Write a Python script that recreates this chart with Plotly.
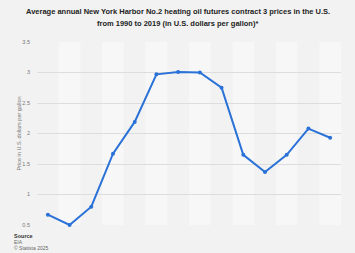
import plotly.graph_objects as go

years = ["1990", "1995", "2000", "2005", "2010", "2011", "2012", "2013",
         "2014", "2015", "2016", "2017", "2018", "2019"]
prices = [0.67, 0.50, 0.80, 1.67, 2.19, 2.97, 3.01, 3.00,
          2.75, 1.65, 1.37, 1.65, 2.08, 1.93]
y_ticks = [0.5, 1, 1.5, 2, 2.5, 3, 3.5]
title_lines = [
    "Average annual New York Harbor No.2 heating oil futures contract 3 prices in the U.S.",
    "from 1990 to 2019 (in U.S. dollars per gallon)*",
]

fig = go.Figure()
fig.add_trace(go.Scatter(
    x=years, y=prices, mode="lines+markers",
    line=dict(color="#2a72d8", width=2),
    marker=dict(color="#2a72d8", size=4),
    cliponaxis=False, hoverinfo="skip", showlegend=False,
))

shapes = []
for i, _ in enumerate(years):
    shapes.append(dict(
        type="rect", xref="x", yref="paper", layer="below",
        x0=i - 0.5, x1=i + 0.5, y0=0, y1=1,
        fillcolor="#f2f2f2" if i % 2 == 0 else "#f7f7f7",
        line=dict(width=0),
    ))

annotations = []
for k, line in enumerate(title_lines):
    annotations.append(dict(
        text=f"<b>{line}</b>", xref="paper", yref="paper",
        x=(177.5 - 37) / 304.0, y=1 + (31 - 13 * k) / 183.0,
        xanchor="center", yanchor="middle", showarrow=False,
        font=dict(size=7.5, color="#222222"),
    ))
annotations += [
    dict(text="<b>Source</b>", xref="paper", yref="paper", x=-0.082, y=-0.06,
         xanchor="left", yanchor="middle", showarrow=False,
         font=dict(size=5.5, color="#333333")),
    dict(text="EIA", xref="paper", yref="paper", x=-0.082, y=-0.093,
         xanchor="left", yanchor="middle", showarrow=False,
         font=dict(size=5, color="#666666")),
    dict(text="© Statista 2025", xref="paper", yref="paper", x=-0.082, y=-0.126,
         xanchor="left", yanchor="middle", showarrow=False,
         font=dict(size=5, color="#666666")),
]

fig.update_layout(
    width=355, height=253,
    margin=dict(l=37, r=14, t=42, b=28),
    paper_bgcolor="#f2f2f2", plot_bgcolor="#f2f2f2",
    shapes=shapes,
    font=dict(family="Liberation Sans, Arial, sans-serif", color="#666666", size=5.5),
    xaxis=dict(
        type="category", range=[-0.5, len(years) - 0.5],
        showticklabels=False, showgrid=False, zeroline=False, showline=False,
        fixedrange=True,
    ),
    yaxis=dict(
        range=[0.5, 3.5], tickvals=y_ticks, ticktext=[f"{v:g}" for v in y_ticks],
        showgrid=True, gridcolor="#dddddd", gridwidth=1, zeroline=False,
        showline=False, ticks="", ticklabelstandoff=6,
        tickfont=dict(size=5.5, color="#777777"),
        title=dict(text="Price in U.S. dollars per gallon", standoff=0,
                   font=dict(size=5.5, color="#777777")),
    ),
    annotations=annotations,
)

fig.write_html("out.html")
